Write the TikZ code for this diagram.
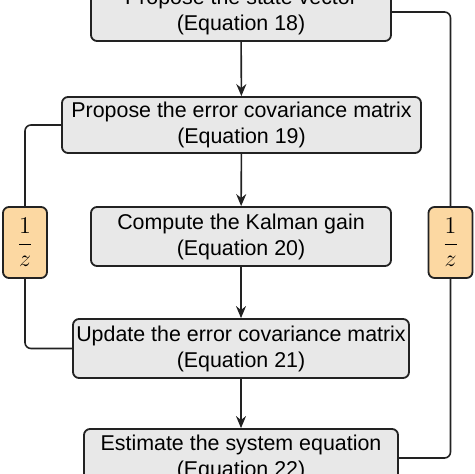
\documentclass[tikz,border=0pt]{standalone}
\usepackage{fontspec}
\setmainfont{Liberation Sans}
\usetikzlibrary{arrows.meta}
\definecolor{boxgray}{HTML}{E8E8E8}
\definecolor{delayorange}{HTML}{FCD8A2}
\definecolor{edgegray}{HTML}{222222}
\tikzset{
	stepbox/.style={draw=edgegray, fill=boxgray, line width=0.9pt, rounded corners=3pt,
		align=center, inner sep=0pt, font=\fontsize{10.7}{13}\selectfont},
	delaybox/.style={draw=edgegray, fill=delayorange, line width=0.9pt, rounded corners=3pt,
		minimum width=22pt, minimum height=35.5pt, inner sep=0pt, font=\fontsize{13}{15}\selectfont},
	flow/.style={draw=edgegray, line width=0.8pt, -{Stealth[length=6pt,width=5pt]}},
	loop/.style={draw=edgegray, line width=0.8pt, rounded corners=3pt}
}
\begin{document}
\begin{tikzpicture}[x=0.5pt, y=-0.5pt]
	\useasboundingbox (0,0) rectangle (474,474);
	\clip (0,0) rectangle (474,474);
	% main chain of steps
	\node[stepbox, minimum width=150pt, minimum height=29pt] (state) at (241,12)
		{Propose the state vector\\(Equation 18)};
	\node[stepbox, minimum width=179.5pt, minimum height=28pt] (cov) at (241.5,125)
		{Propose the error covariance matrix\\(Equation 19)};
	\node[stepbox, minimum width=150pt, minimum height=29.5pt] (gain) at (241,236.5)
		{Compute the Kalman gain\\(Equation 20)};
	\node[stepbox, minimum width=168pt, minimum height=29.5pt] (update) at (241,348.5)
		{Update the error covariance matrix\\(Equation 21)};
	\node[stepbox, minimum width=157pt, minimum height=29pt] (estimate) at (241,458)
		{Estimate the system equation\\(Equation 22)};
	\draw[flow] (state) -- (cov);
	\draw[flow] (cov) -- (gain);
	\draw[flow] (gain) -- (update);
	\draw[flow] (update) -- (estimate);
	% unit delays on both sides
	\node[delaybox] (delayleft) at (25,242.5) {$\displaystyle\frac{1}{z}$};
	\node[delaybox] (delayright) at (450.5,242.5) {$\displaystyle\frac{1}{z}$};
	\draw[loop] (update.west) -| (delayleft.south);
	\draw[loop] (delayleft.north) |- (cov.west);
	\draw[loop] (estimate.east) -| (delayright.south);
	\draw[loop] (delayright.north) |- (state.east);
\end{tikzpicture}
\end{document}
